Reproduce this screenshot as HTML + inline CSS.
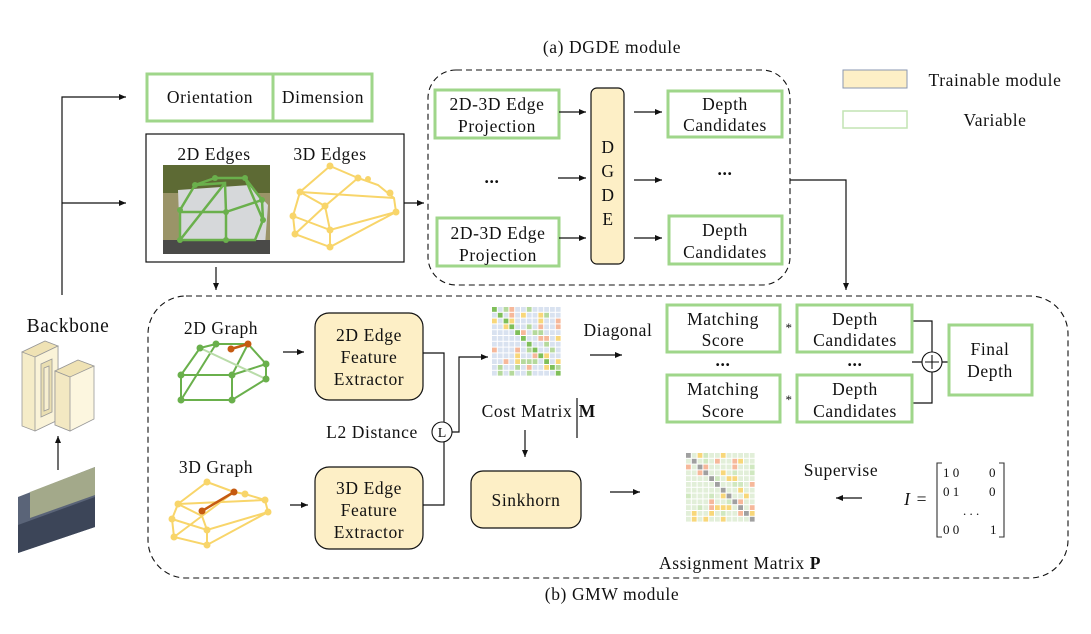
<!DOCTYPE html>
<html><head><meta charset="utf-8"><style>
html,body{margin:0;padding:0;background:#fff;}
svg{display:block;font-family:"Liberation Serif",serif;}
text{fill:#111;font-family:"Liberation Serif",serif;}
</style></head><body>
<svg id="s" width="1091" height="634" viewBox="0 0 1091 634" xmlns="http://www.w3.org/2000/svg">
<defs>
<marker id="a" markerWidth="8" markerHeight="8" refX="7" refY="4" orient="auto" markerUnits="userSpaceOnUse">
<path d="M0,1 L7,4 L0,7 z" fill="#111"/></marker>
</defs>
<g font-size="17.5" letter-spacing="0.6" text-anchor="middle" font-family="Liberation Serif, serif">
<text x="612" y="53">(a) DGDE module</text>
<text x="612" y="600">(b) GMW module</text>

<rect x="843" y="70" width="64" height="18" fill="#fdefc6" stroke="#8a97b0" stroke-width="1"/>
<text x="995" y="86">Trainable module</text>
<rect x="843" y="111" width="64" height="17" fill="#fff" stroke="#c2e4b3" stroke-width="1.5"/>
<text x="995" y="126">Variable</text>

<g stroke="#111" stroke-width="1.2" fill="none">
<path d="M62,295 V97 H126" marker-end="url(#a)"/>
<path d="M62,203 H126" marker-end="url(#a)"/>
<path d="M404,203 H424" marker-end="url(#a)"/>
<path d="M216,267 V290" marker-end="url(#a)"/>
<path d="M790,180 H846 V290" marker-end="url(#a)"/>
<path d="M58,470 V436" marker-end="url(#a)"/>
</g>

<rect x="147" y="74" width="225" height="47" fill="#fff" stroke="#9fd68a" stroke-width="3"/>
<line x1="273" y1="74" x2="273" y2="121" stroke="#9fd68a" stroke-width="3"/>
<text x="210" y="103">Orientation</text>
<text x="323" y="103">Dimension</text>

<rect x="146" y="134" width="258" height="128" fill="#fff" stroke="#111" stroke-width="1.2"/>
<text x="214" y="160">2D Edges</text>
<text x="330" y="160">3D Edges</text>
<rect x="163" y="165" width="107" height="89" fill="#9a9468"/>
<rect x="163" y="165" width="107" height="28" fill="#5d6a34"/>
<path d="M178,190 L250,185 L268,205 L265,245 L240,250 L180,245 Z" fill="#d6d8da"/>
<rect x="163" y="240" width="107" height="14" fill="#4a4a48"/>
<g stroke="#6ab04c" stroke-width="2.5" fill="none">
<path d="M180,210 L195,185 L215,178 L245,178 L262,200 L263,220 L255,240 L226,240 L180,240 Z M195,185 L225,183 L226,212 L180,212 M226,212 L262,200 M226,240 L226,212 M180,240 L225,183 M245,178 L263,220"/>
</g>
<g fill="#6ab04c"><circle cx="180" cy="210" r="3"/><circle cx="195" cy="185" r="3"/><circle cx="215" cy="178" r="3"/><circle cx="245" cy="178" r="3"/><circle cx="262" cy="200" r="3"/><circle cx="263" cy="220" r="3"/><circle cx="226" cy="240" r="3"/><circle cx="180" cy="240" r="3"/><circle cx="226" cy="212" r="3"/></g>
<g stroke="#f8d56a" stroke-width="2" fill="none">
<path d="M330,166 L358,178 L378,185 L394,198 L396,212 L330,247 L295,234 L293,216 L300,192 Z M300,192 L325,206 L358,178 M325,206 L330,230 L330,247 M293,216 L330,230 L396,212 M300,192 L394,198 M295,234 L325,206"/>
</g>
<g fill="#f8d56a"><circle cx="330" cy="166" r="3.5"/><circle cx="358" cy="178" r="3.5"/><circle cx="368" cy="179" r="3"/><circle cx="390" cy="193" r="3.5"/><circle cx="396" cy="212" r="3.5"/><circle cx="330" cy="247" r="3.5"/><circle cx="295" cy="234" r="3.5"/><circle cx="293" cy="216" r="3.5"/><circle cx="300" cy="192" r="3.5"/><circle cx="325" cy="206" r="3.5"/><circle cx="330" cy="230" r="3.5"/></g>

<rect x="428" y="70" width="362" height="215" rx="28" fill="none" stroke="#111" stroke-width="1.1" stroke-dasharray="6,4"/>
<rect x="435" y="90" width="124" height="48" fill="#fff" stroke="#9fd68a" stroke-width="3"/>
<text x="497" y="110">2D-3D Edge</text><text x="497" y="132">Projection</text>
<rect x="437" y="218" width="122" height="48" fill="#fff" stroke="#9fd68a" stroke-width="3"/>
<text x="498" y="239">2D-3D Edge</text><text x="498" y="261">Projection</text>
<text x="492" y="183" font-weight="bold">...</text>
<rect x="591" y="88" width="33" height="176" rx="6" fill="#fdefc6" stroke="#111" stroke-width="1.2"/>
<text x="608" y="153">D</text><text x="608" y="177">G</text><text x="608" y="201">D</text><text x="608" y="225">E</text>
<g stroke="#111" stroke-width="1.2" fill="none">
<path d="M559,112 H586" marker-end="url(#a)"/>
<path d="M558,178 H586" marker-end="url(#a)"/>
<path d="M559,238 H586" marker-end="url(#a)"/>
<path d="M634,112 H662" marker-end="url(#a)"/>
<path d="M634,180 H662" marker-end="url(#a)"/>
<path d="M634,238 H662" marker-end="url(#a)"/>
</g>
<rect x="668" y="91" width="114" height="46" fill="#fff" stroke="#9fd68a" stroke-width="3"/>
<text x="725" y="110">Depth</text><text x="725" y="131">Candidates</text>
<rect x="669" y="216" width="113" height="48" fill="#fff" stroke="#9fd68a" stroke-width="3"/>
<text x="725" y="236">Depth</text><text x="725" y="258">Candidates</text>
<text x="725" y="175" font-weight="bold">...</text>

<text x="68" y="332" font-size="19.5">Backbone</text>
<g stroke="#999" stroke-width="0.8">
<path d="M22,352 L45,341 L58,346 L58,420 L35,431 L22,426 Z" fill="#f5ecc8"/>
<path d="M22,352 L45,341 L58,346 L35,357 Z" fill="#efe2b4"/>
<path d="M35,357 L58,346 L58,420 L35,431 Z" fill="#faf3d8"/>
<path d="M41,364 L52,359 L52,412 L41,417 Z" fill="#eadfb2"/>
<path d="M44,368 L49,366 L49,409 L44,411 Z" fill="#f7efcf"/>
<path d="M55,371 L78,360 L94,366 L94,419 L70,431 L55,425 Z" fill="#fcf6df"/>
<path d="M55,371 L78,360 L94,366 L70,377 Z" fill="#efe2b4"/>
<path d="M55,371 L70,377 L70,431 L55,425 Z" fill="#f3e8c2"/>
</g>
<path d="M18,497 L95,467 L95,527 L18,553 Z" fill="#5a6478"/>
<path d="M30,492 L95,467 L95,495 L30,518 Z" fill="#a3a98a"/>
<path d="M18,525 L95,497 L95,527 L18,553 Z" fill="#3c4558"/>

<rect x="148" y="296" width="920" height="282" rx="38" fill="none" stroke="#111" stroke-width="1.1" stroke-dasharray="6,4"/>
<text x="221" y="334">2D Graph</text>
<g stroke="#6ab04c" stroke-width="2" fill="none">
<path d="M200,348 L216,344 L248,344 L266,364 L266,379 L232,400 L181,400 L181,375 Z M181,375 L232,375 L232,400 M232,375 L266,364 M232,375 L248,344 M181,400 L216,344"/>
<path d="M200,348 L266,379" stroke="#b9dca9"/>
</g>
<line x1="231" y1="349" x2="248" y2="344" stroke="#c55a11" stroke-width="2.5"/>
<g fill="#6ab04c"><circle cx="200" cy="348" r="3.5"/><circle cx="216" cy="344" r="3.5"/><circle cx="266" cy="364" r="3.5"/><circle cx="266" cy="379" r="3.5"/><circle cx="232" cy="400" r="3.5"/><circle cx="181" cy="400" r="3.5"/><circle cx="181" cy="375" r="3.5"/><circle cx="232" cy="375" r="3.5"/></g>
<g fill="#c55a11"><circle cx="231" cy="349" r="3.5"/><circle cx="248" cy="344" r="3.5"/></g>

<text x="216" y="473">3D Graph</text>
<g stroke="#f8d56a" stroke-width="2" fill="none">
<path d="M207,482 L234,492 L245,494 L265,500 L268,512 L207,545 L174,537 L172,519 L178,504 Z M178,504 L202,516 L234,492 M202,516 L207,530 L207,545 M172,519 L207,530 L268,512 M178,504 L265,500 M174,537 L202,516"/>
</g>
<line x1="202" y1="511" x2="234" y2="492" stroke="#c55a11" stroke-width="2.5"/>
<g fill="#f8d56a"><circle cx="207" cy="482" r="3.5"/><circle cx="245" cy="494" r="3.5"/><circle cx="265" cy="500" r="3.5"/><circle cx="268" cy="512" r="3.5"/><circle cx="207" cy="545" r="3.5"/><circle cx="174" cy="537" r="3.5"/><circle cx="172" cy="519" r="3.5"/><circle cx="178" cy="504" r="3.5"/><circle cx="207" cy="530" r="3.5"/></g>
<g fill="#c55a11"><circle cx="202" cy="511" r="3.5"/><circle cx="234" cy="492" r="3.5"/></g>

<rect x="315" y="313" width="108" height="87" rx="14" fill="#fdefc6" stroke="#111" stroke-width="1.2"/>
<text x="369" y="341">2D Edge</text><text x="369" y="363">Feature</text><text x="369" y="385">Extractor</text>
<rect x="315" y="467" width="108" height="82" rx="14" fill="#fdefc6" stroke="#111" stroke-width="1.2"/>
<text x="369" y="494">3D Edge</text><text x="369" y="516">Feature</text><text x="369" y="538">Extractor</text>
<text x="372" y="438">L2 Distance</text>
<circle cx="442" cy="432" r="10" fill="#fff" stroke="#111" stroke-width="1.1"/>
<text x="442" y="437" font-size="14" letter-spacing="0">L</text>
<g stroke="#111" stroke-width="1.2" fill="none">
<path d="M283,352 H304" marker-end="url(#a)"/>
<path d="M290,505 H308" marker-end="url(#a)"/>
<path d="M423,353 H444 V422"/>
<path d="M423,505 H444 V442"/>
<path d="M452,432 H459 V357 H488" marker-end="url(#a)"/>
<path d="M590,355 H622" marker-end="url(#a)"/>
<path d="M525,430 V457" marker-end="url(#a)"/>
<path d="M577,398 V438"/>
<path d="M610,492 H640" marker-end="url(#a)"/>
<path d="M862,498 H836" marker-end="url(#a)"/>
<path d="M912,321 H932 V403 H912 M922,362 H912 M942,362 H948"/>
</g>
<g id="cm"></g>
<g id="am"></g>
<text x="527" y="417">Cost Matrix</text>
<text x="587" y="417" font-weight="bold" letter-spacing="0">M</text>
<text x="618" y="336">Diagonal</text>

<rect x="667" y="305" width="113" height="47" fill="#fff" stroke="#9fd68a" stroke-width="3"/>
<text x="723" y="325">Matching</text><text x="723" y="346">Score</text>
<rect x="667" y="375" width="113" height="47" fill="#fff" stroke="#9fd68a" stroke-width="3"/>
<text x="723" y="395">Matching</text><text x="723" y="417">Score</text>
<rect x="797" y="305" width="115" height="47" fill="#fff" stroke="#9fd68a" stroke-width="3"/>
<text x="855" y="325">Depth</text><text x="855" y="346">Candidates</text>
<rect x="797" y="375" width="115" height="47" fill="#fff" stroke="#9fd68a" stroke-width="3"/>
<text x="855" y="395">Depth</text><text x="855" y="417">Candidates</text>
<text x="789" y="332" font-size="13">*</text><text x="789" y="404" font-size="13">*</text>
<text x="723" y="366" font-weight="bold">...</text><text x="855" y="366" font-weight="bold">...</text>
<circle cx="932" cy="362" r="10" fill="#fff" stroke="#111" stroke-width="1.1"/>
<path d="M932,355 V369 M925,362 H939" stroke="#111" stroke-width="1.1"/>
<rect x="949" y="325" width="83" height="70" fill="#fff" stroke="#9fd68a" stroke-width="3"/>
<text x="990" y="355">Final</text><text x="990" y="377">Depth</text>

<rect x="471" y="471" width="110" height="57" rx="12" fill="#fdefc6" stroke="#111" stroke-width="1.2"/>
<text x="526" y="506">Sinkhorn</text>
<text x="740" y="569">Assignment Matrix <tspan font-weight="bold">P</tspan></text>
<text x="841" y="476">Supervise</text>
<text x="916" y="505" font-style="italic" fill="#444">I =</text>
<path d="M942,463 H937 V537 H942 M999,463 H1004 V537 H999" stroke="#333" stroke-width="1.1" fill="none"/>
<g font-size="13" fill="#444" text-anchor="start" letter-spacing="0">
<text x="943" y="477" fill="#444">1 0</text><text x="989" y="477" fill="#444">0</text>
<text x="943" y="496" fill="#444">0 1</text><text x="989" y="496" fill="#444">0</text>
<text x="963" y="515" fill="#444">. . .</text>
<text x="943" y="534" fill="#444">0 0</text><text x="990" y="534" fill="#444">1</text>
</g>
</g>
</svg>
<script>
(function(){
var ns="http://www.w3.org/2000/svg";
function grid(id,x0,y0,n,cw,diag,bg,cols){
 var g=document.getElementById(id),seed=7;
 function r(){seed=(seed*9301+49297)%233280;return seed/233280;}
 for(var i=0;i<n;i++)for(var j=0;j<n;j++){
  var c=bg,v=r();
  if(i==j)c=diag;else if(v<0.12)c=cols[0];else if(v<0.2)c=cols[1];else if(v<0.27)c=cols[2];
  var e=document.createElementNS(ns,"rect");
  e.setAttribute("x",x0+j*cw);e.setAttribute("y",y0+i*cw);
  e.setAttribute("width",cw-1);e.setAttribute("height",cw-1);e.setAttribute("fill",c);
  g.appendChild(e);}
}
grid("cm",492,307,12,5.8,"#7fbf5a","#d9e2f0",["#b5d99c","#f8d77a","#f6b89a"]);
grid("am",686,453,12,5.8,"#a0a0a0","#e2efd9",["#f8d77a","#f6b89a","#d0e8c0"]);
})();
</script>
</body></html>
